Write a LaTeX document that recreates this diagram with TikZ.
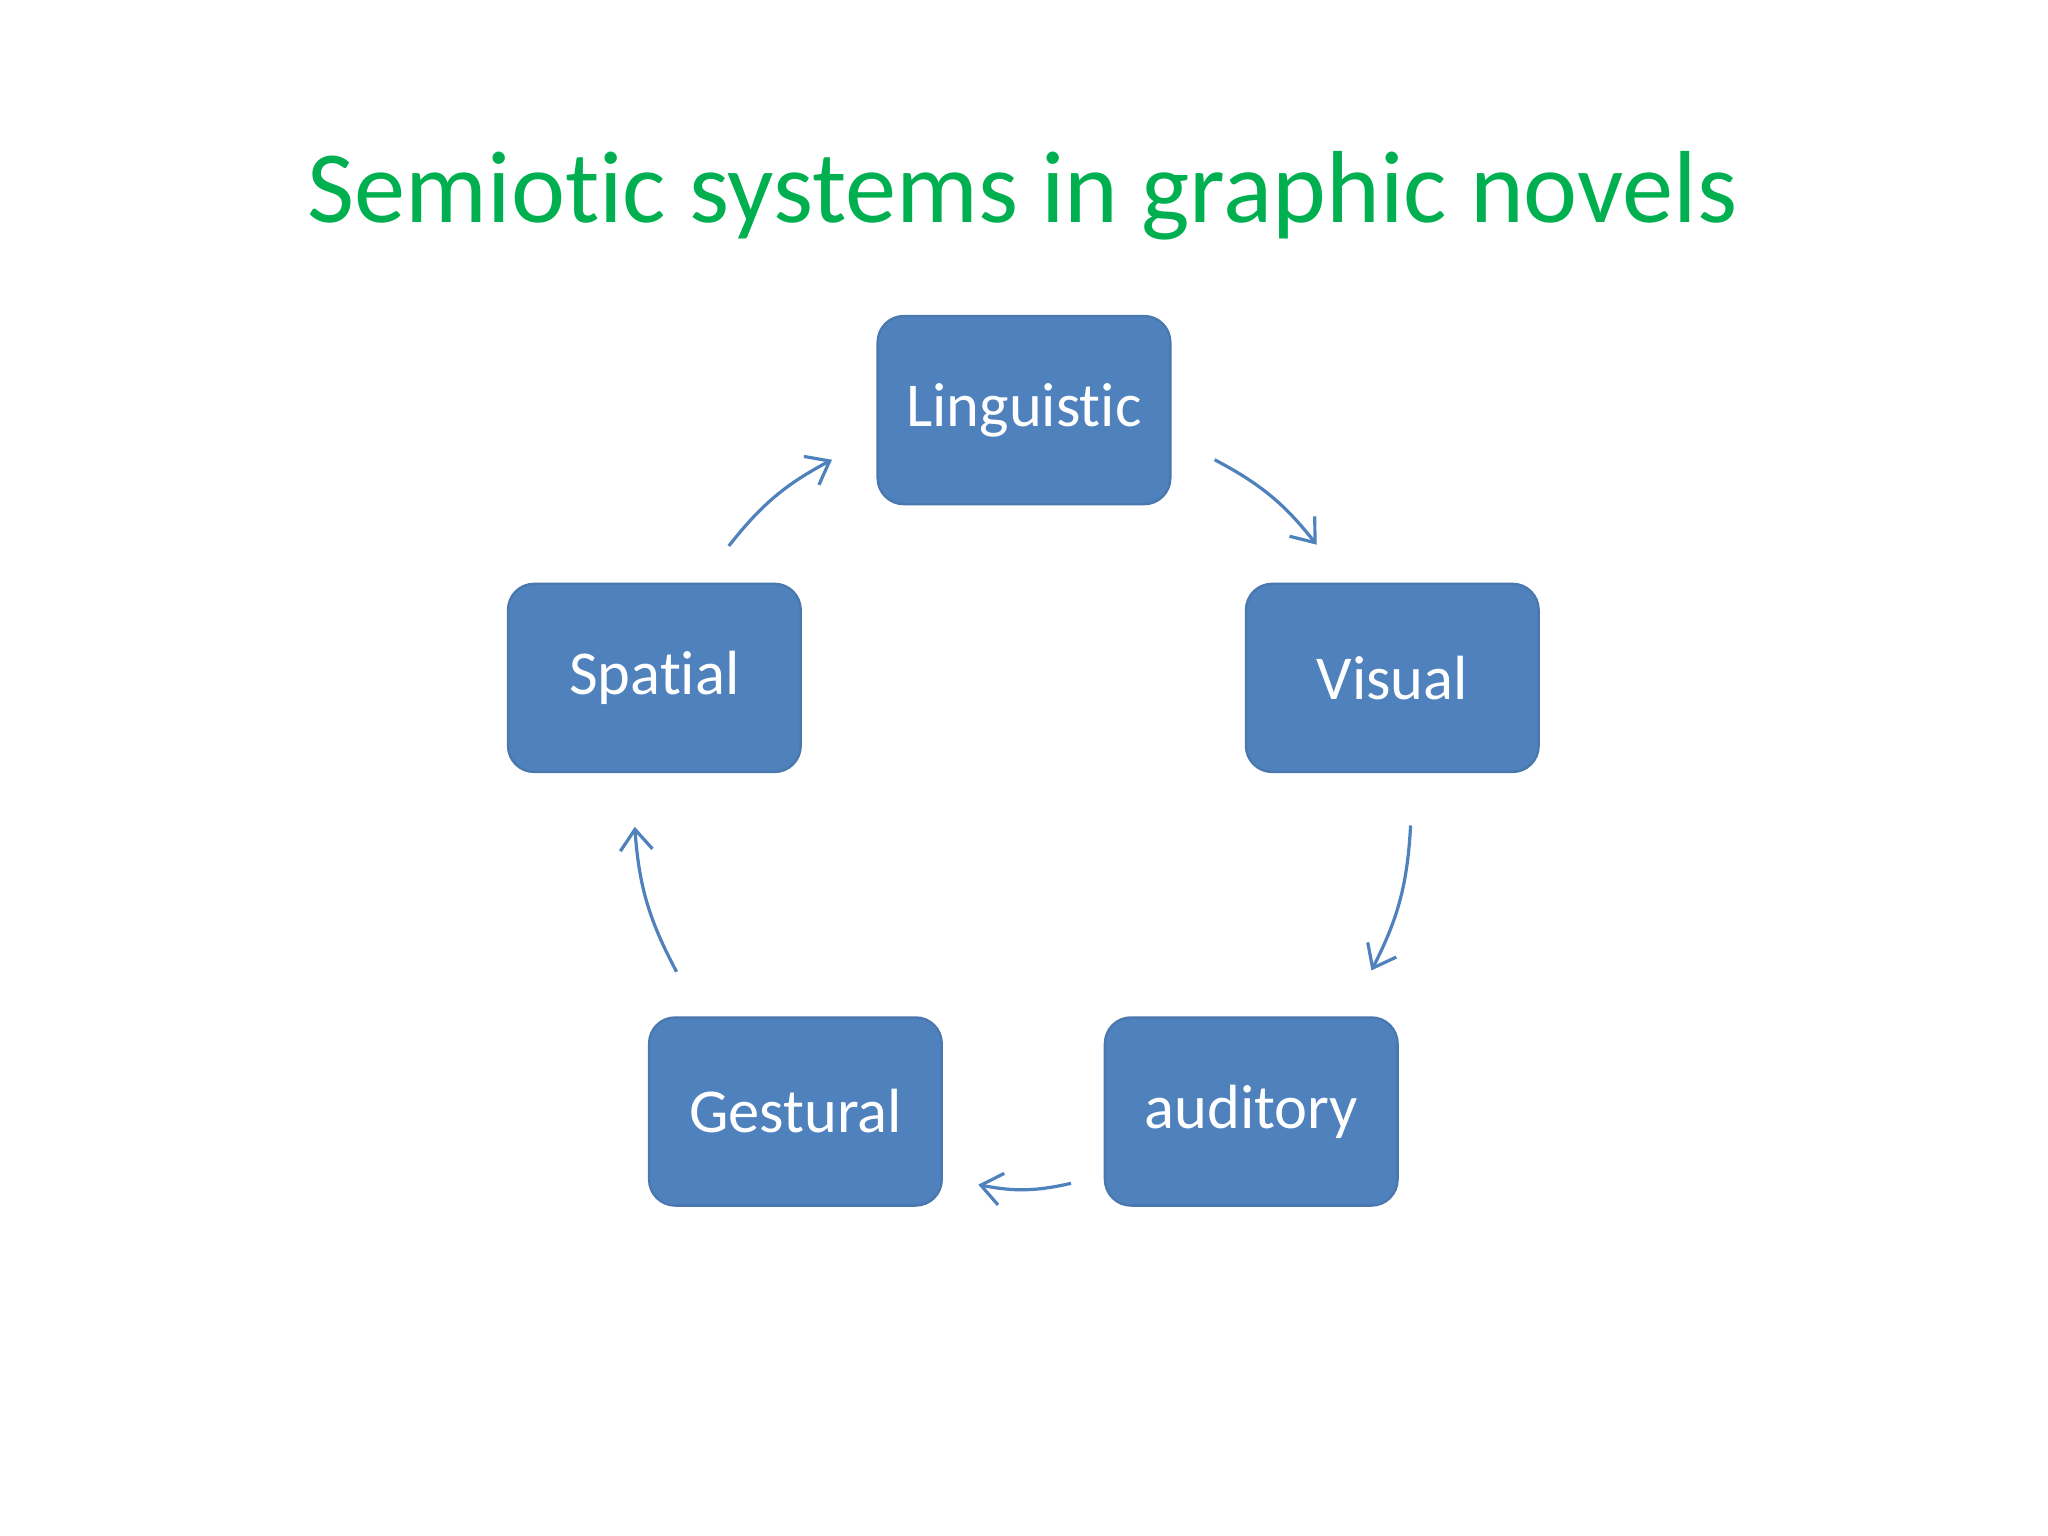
\documentclass[tikz,border=0pt]{standalone}
\usepackage{fontspec}
\setmainfont[Ligatures=NoCommon]{Carlito}
\usetikzlibrary{arrows.meta}
\definecolor{boxblue}{HTML}{4F81BD}
\definecolor{titlegreen}{HTML}{00B050}
\begin{document}
\begin{tikzpicture}[x=0.01cm,y=-0.01cm,
  sbox/.style={fill=boxblue,draw=boxblue!92!black,line width=0.5pt,rounded corners=0.2cm,minimum width=2.24cm,minimum height=1.44cm,text=white,font=\fontsize{13.6pt}{15pt}\selectfont},
  conn/.style={draw=boxblue,line width=0.7pt,-{Straight Barb[length=4.5pt,width=7pt]}}]
\useasboundingbox (0,0) rectangle (1568,1176);
\node[text=titlegreen,font=\fontsize{22.3pt}{26pt}\selectfont] (title) at (783,150) {Semiotic systems in graphic novels};
\node[sbox] (ling) at (784,314) {Linguistic};
\node[sbox] (vis) at (1066,519) {Visual};
\node[sbox] (spa) at (501,519) {Spatial};
\node[sbox] (aud) at (958,851) {auditory};
\node[sbox] (ges) at (609,851) {Gestural};
\coordinate (a1) at (930,352); \coordinate (b1) at (1008,417);
\coordinate (a2) at (1080,632); \coordinate (b2) at (1050,743);
\coordinate (a3) at (820,906); \coordinate (b3) at (749,907);
\coordinate (a4) at (518,744); \coordinate (b4) at (486,633);
\coordinate (a5) at (558,418); \coordinate (b5) at (637,352);
\draw[conn] (a1) to[bend left=12] (b1);
\draw[conn] (a2) to[bend left=12] (b2);
\draw[conn] (a3) to[bend left=12] (b3);
\draw[conn] (a4) to[bend left=12] (b4);
\draw[conn] (a5) to[bend left=12] (b5);
\end{tikzpicture}
\end{document}
